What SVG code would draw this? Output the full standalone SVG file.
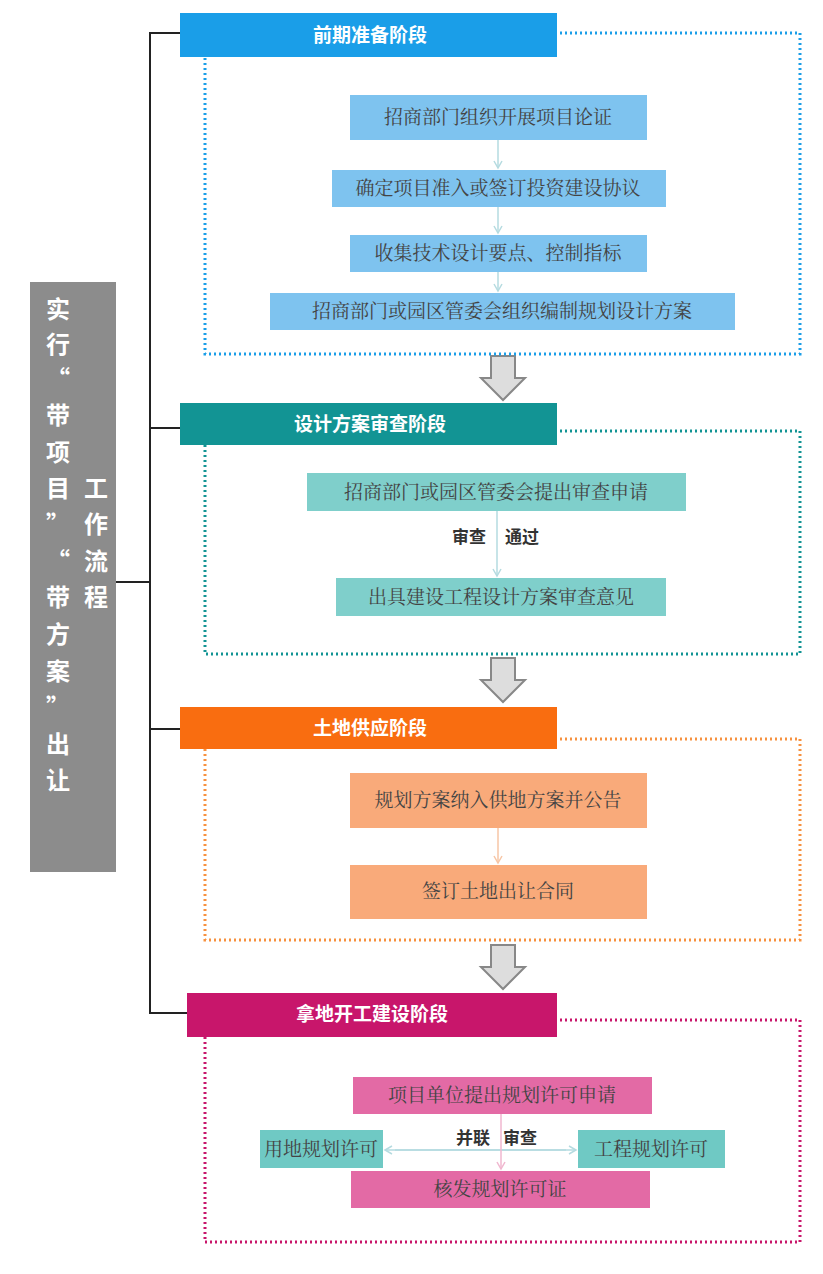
<svg xmlns="http://www.w3.org/2000/svg" width="823" height="1274" viewBox="0 0 823 1274">
<style>
.h{font-family:"Noto Sans CJK SC",sans-serif;font-size:19px;font-weight:bold;fill:#fff;text-anchor:middle}
.t{font-family:"Noto Serif CJK SC","Noto Sans CJK SC",serif;font-size:19px;fill:#444;text-anchor:middle}
.v{font-family:"Noto Sans CJK SC",sans-serif;font-size:24px;font-weight:bold;fill:#fff;text-anchor:middle}
.lb{font-family:"Noto Sans CJK SC",sans-serif;font-size:17px;font-weight:bold;fill:#333}
.dot{fill:none;stroke-width:3;stroke-dasharray:2 3}
</style>
<defs>
<marker id="a" markerWidth="10" markerHeight="10" refX="8" refY="5" orient="auto" markerUnits="userSpaceOnUse"><path d="M1,1 L8,5 L1,9" fill="none" stroke="#b5dbe0" stroke-width="1.5"/></marker>
<marker id="ap" markerWidth="10" markerHeight="10" refX="8" refY="5" orient="auto" markerUnits="userSpaceOnUse"><path d="M1,1 L8,5 L1,9" fill="none" stroke="#f0b7cf" stroke-width="1.5"/></marker>
<marker id="ao" markerWidth="10" markerHeight="10" refX="8" refY="5" orient="auto" markerUnits="userSpaceOnUse"><path d="M1,1 L8,5 L1,9" fill="none" stroke="#f7c6a6" stroke-width="1.5"/></marker>
<path id="big" d="M-12,0 H12 V22 H22 L0,44 L-22,22 H-12 Z" fill="#ddd" stroke="#888" stroke-width="2"/>
</defs>
<rect width="823" height="1274" fill="#fff"/>
<g id="title">
<rect x="30" y="282" width="86" height="590" fill="#8c8c8c"/>
<g class="v">
<text x="58" y="318">实</text><text x="58" y="353">行</text><text x="58" y="388">“</text><text x="58" y="424">带</text><text x="58" y="461">项</text><text x="58" y="497">目</text><text x="58" y="533">”</text><text x="58" y="570">“</text><text x="58" y="606">带</text><text x="58" y="643">方</text><text x="58" y="680">案</text><text x="58" y="716">”</text><text x="58" y="753">出</text><text x="58" y="789">让</text>
<text x="96" y="497">工</text><text x="96" y="533">作</text><text x="96" y="570">流</text><text x="96" y="606">程</text>
</g>
</g>
<g id="connectors" fill="none" stroke="#222" stroke-width="2">
<path d="M180,33 H150 V1013 H187 M150,428 H180 M116,582 H150 M150,729 H180"/>
<g stroke="#b5dbe0" stroke-width="1.5">
<path d="M498,140 V168" marker-end="url(#a)"/><path d="M498,207 V233" marker-end="url(#a)"/><path d="M498,272 V291" marker-end="url(#a)"/>
<path d="M497,511 V576" marker-end="url(#a)"/>
<path d="M395,1150 H576" marker-end="url(#a)"/><path d="M566,1150 H385" marker-end="url(#a)"/>
</g>
<path d="M498,828 V863" stroke="#f7c6a6" stroke-width="1.5" marker-end="url(#ao)"/>
<path d="M501,1114 V1169" stroke="#f0b7cf" stroke-width="1.5" marker-end="url(#ap)"/>
<use href="#big" x="503" y="356"/><use href="#big" x="503" y="658"/><use href="#big" x="503" y="945"/>
</g>
<g id="stage1">
<rect class="dot" x="205" y="33" width="595" height="321" stroke="#1a9ee8"/>
<rect x="180" y="13" width="377" height="44" fill="#1a9ee8"/><text class="h" x="370" y="42">前期准备阶段</text>
<rect x="350" y="95" width="297" height="45" fill="#7ec3ef"/><text class="t" x="498" y="124">招商部门组织开展项目论证</text>
<rect x="332" y="170" width="334" height="37" fill="#7ec3ef"/><text class="t" x="498" y="195">确定项目准入或签订投资建设协议</text>
<rect x="350" y="235" width="297" height="37" fill="#7ec3ef"/><text class="t" x="498" y="260">收集技术设计要点、控制指标</text>
<rect x="270" y="293" width="465" height="37" fill="#7ec3ef"/><text class="t" x="502" y="318">招商部门或园区管委会组织编制规划设计方案</text>
</g>
<g id="stage2">
<rect class="dot" x="205" y="431" width="595" height="223" stroke="#129494"/>
<rect x="180" y="403" width="377" height="42" fill="#129494"/><text class="h" x="370" y="431">设计方案审查阶段</text>
<rect x="307" y="473" width="379" height="38" fill="#7fcfcb"/><text class="t" x="496" y="499">招商部门或园区管委会提出审查申请</text>
<text class="lb" x="452" y="543">审查</text><text class="lb" x="505" y="543">通过</text>
<rect x="336" y="578" width="330" height="38" fill="#7fcfcb"/><text class="t" x="501" y="604">出具建设工程设计方案审查意见</text>
</g>
<g id="stage3">
<rect class="dot" x="205" y="739" width="595" height="201" stroke="#f7913f"/>
<rect x="180" y="707" width="377" height="42" fill="#f96d10"/><text class="h" x="370" y="735">土地供应阶段</text>
<rect x="350" y="773" width="297" height="55" fill="#f9aa7a"/><text class="t" x="498" y="807">规划方案纳入供地方案并公告</text>
<rect x="350" y="865" width="297" height="54" fill="#f9aa7a"/><text class="t" x="498" y="898">签订土地出让合同</text>
</g>
<g id="stage4">
<rect class="dot" x="205" y="1020" width="595" height="222" stroke="#c8166b"/>
<rect x="187" y="993" width="370" height="44" fill="#c8166b"/><text class="h" x="372" y="1021">拿地开工建设阶段</text>
<rect x="353" y="1077" width="299" height="37" fill="#e36aa5"/><text class="t" x="502" y="1102">项目单位提出规划许可申请</text>
<rect x="260" y="1130" width="123" height="38" fill="#6fc9c4"/><text class="t" x="321" y="1156">用地规划许可</text>
<rect x="578" y="1130" width="147" height="38" fill="#6fc9c4"/><text class="t" x="651" y="1156">工程规划许可</text>
<text class="lb" x="456" y="1144">并联</text><text class="lb" x="503" y="1144">审查</text>
<rect x="351" y="1171" width="299" height="37" fill="#e36aa5"/><text class="t" x="500" y="1196">核发规划许可证</text>
</g>
</svg>
